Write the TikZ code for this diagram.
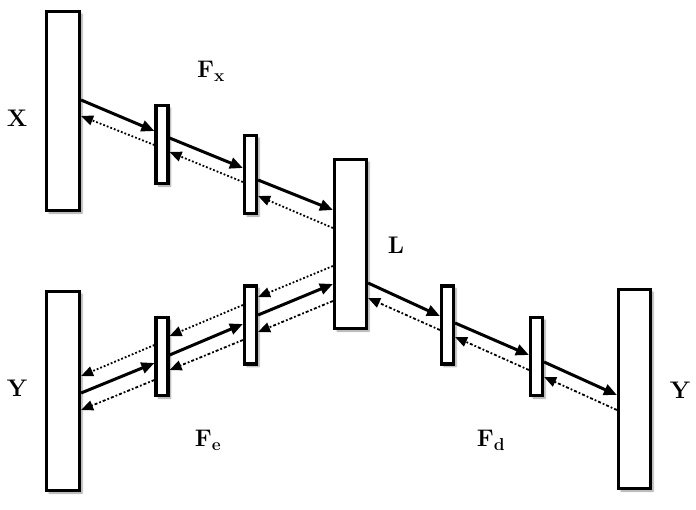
\documentclass[tikz,border=0pt]{standalone}
\usetikzlibrary{arrows.meta,shadows.blur}
\begin{document}
\begin{tikzpicture}[x=1pt,y=-1pt,
  blk/.style={draw,line width=3.2pt,fill=white,inner sep=0pt,minimum width=#1,blur shadow={shadow blur steps=5,shadow xshift=2.5pt,shadow yshift=-2.5pt}},
  fw/.style={line width=3pt,-{Triangle[length=13pt,width=11pt]}},
  bk/.style={line width=1.8pt,dotted,-{Triangle[length=12pt,width=10pt]}},
  bd/.style={line width=1.8pt,dash dot,-{Triangle[length=12pt,width=10pt]}},
  lab/.style={font=\bfseries\fontsize{24}{28}\selectfont}]
\useasboundingbox (0,0) rectangle (696,509);
\node[blk=33pt,minimum height=199pt] (X) at (63,111) {};
\node[blk=12pt,minimum height=78pt] (a1) at (162,144.5) {};
\node[blk=12pt,minimum height=78pt] (a2) at (250.5,174.5) {};
\node[blk=32pt,minimum height=169pt] (L) at (350.5,244) {};
\node[blk=33pt,minimum height=199pt] (Y1) at (63,391) {};
\node[blk=12pt,minimum height=78pt] (b1) at (162,356.5) {};
\node[blk=12pt,minimum height=78pt] (b2) at (250.5,325) {};
\node[blk=12pt,minimum height=78pt] (c1) at (447.5,325) {};
\node[blk=12pt,minimum height=78pt] (c2) at (536.5,356.5) {};
\node[blk=32pt,minimum height=199pt] (Y2) at (634.5,389) {};
% top
\draw[fw] (X.east|-0,100) -- (a1.west|-0,131);
\draw[bk] (a1.west|-0,145) -- (X.east|-0,116);
\draw[fw] (a1.east|-0,138) -- (a2.west|-0,168);
\draw[bk] (a2.west|-0,182) -- (a1.east|-0,152);
\draw[fw] (a2.east|-0,180) -- (L.west|-0,210);
\draw[bk] (L.west|-0,228) -- (a2.east|-0,196);
% bottom left
\draw[fw] (Y1.east|-0,393) -- (b1.west|-0,363);
\draw[bk] (b1.west|-0,345) -- (Y1.east|-0,376);
\draw[bd] (b1.west|-0,380) -- (Y1.east|-0,410);
\draw[fw] (b1.east|-0,355) -- (b2.west|-0,324);
\draw[bk] (b2.west|-0,305) -- (b1.east|-0,336);
\draw[bd] (b2.west|-0,340) -- (b1.east|-0,370);
\draw[fw] (b2.east|-0,315) -- (L.west|-0,284);
\draw[bk] (L.west|-0,266) -- (b2.east|-0,297);
\draw[bd] (L.west|-0,301) -- (b2.east|-0,332);
% right
\draw[fw] (L.east|-0,283) -- (c1.west|-0,316);
\draw[bd] (c1.west|-0,330) -- (L.east|-0,298);
\draw[fw] (c1.east|-0,323) -- (c2.west|-0,355);
\draw[bd] (c2.west|-0,370) -- (c1.east|-0,337);
\draw[fw] (c2.east|-0,362) -- (Y2.west|-0,395);
\draw[bd] (Y2.west|-0,410) -- (c2.east|-0,377);
% labels
\node[lab] (tX) at (17,118) {X};
\node[lab] (tFx) at (211,71) {F$_{\mathbf{x}}$};
\node[lab] (tL) at (396,245) {L};
\node[lab] (tY1) at (17,388) {Y};
\node[lab] (tFe) at (208,440) {F$_{\mathbf{e}}$};
\node[lab] (tFd) at (491,440) {F$_{\mathbf{d}}$};
\node[lab] (tY2) at (680,390) {Y};
\end{tikzpicture}
\end{document}
